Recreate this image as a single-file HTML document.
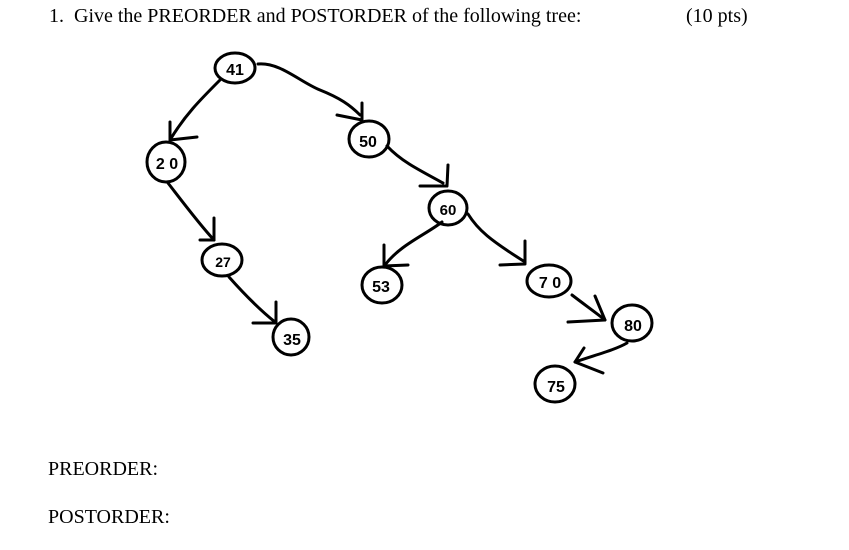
<!DOCTYPE html>
<html><head><style>
body{margin:0;width:849px;height:550px;background:#fff;position:relative;overflow:hidden;font-family:"Liberation Serif",serif;}
.t{position:absolute;font-size:20px;color:#000;white-space:nowrap;}
svg{position:absolute;left:0;top:0;}
svg text{font-family:"Liberation Sans",sans-serif;font-size:16px;font-weight:bold;}
</style></head><body>
<div class="t" style="left:49px;top:5px">1.&nbsp;&nbsp;Give the PREORDER and POSTORDER of the following tree:</div>
<div class="t" style="left:686px;top:5px">(10 pts)</div>
<div class="t" style="left:48px;top:458px">PREORDER:</div>
<div class="t" style="left:48px;top:506px">POSTORDER:</div>
<svg width="849" height="550" fill="none" stroke="#000" stroke-width="3" stroke-linecap="round" stroke-linejoin="round">
<ellipse cx="235" cy="68" rx="20" ry="15"/>
<ellipse cx="166" cy="162" rx="19" ry="20"/>
<ellipse cx="222" cy="260" rx="20" ry="16"/>
<ellipse cx="291" cy="337" rx="18" ry="18"/>
<ellipse cx="369" cy="139" rx="20" ry="18"/>
<ellipse cx="448" cy="208" rx="19" ry="17"/>
<ellipse cx="382" cy="285" rx="20" ry="18"/>
<ellipse cx="549" cy="281" rx="22" ry="16"/>
<ellipse cx="632" cy="323" rx="20" ry="18"/>
<ellipse cx="555" cy="384" rx="20" ry="18"/>
<path d="M258 64 C280 62 300 82 320 90 C340 98 350 105 360 115"/>
<path d="M362 103 L362 120 L337 115"/>
<path d="M220 80 C200 100 185 115 170 140"/>
<path d="M170 122 L170 140 L197 137"/>
<path d="M168 183 C185 205 200 225 214 240"/>
<path d="M214 218 L214 240 L200 240"/>
<path d="M229 277 C245 295 260 310 275 322"/>
<path d="M276 302 L276 323 L253 323"/>
<path d="M387 146 C400 160 415 168 443 183"/>
<path d="M448 165 L447 186 L420 186"/>
<path d="M442 222 C425 235 400 245 385 265"/>
<path d="M384 245 L384 266 L408 265"/>
<path d="M468 214 C478 230 490 240 525 262"/>
<path d="M525 241 L525 264 L500 265"/>
<path d="M572 295 C585 305 595 312 605 320"/>
<path d="M595 296 L605 320 L568 322"/>
<path d="M627 343 C615 350 595 355 575 362"/>
<path d="M584 348 L575 362 L603 373"/>
</svg>
<svg width="849" height="550">
<g fill="#000" text-anchor="middle">
<text x="235" y="75">41</text>
<text x="167" y="169">2 0</text>
<text x="223" y="267" style="font-size:14px">27</text>
<text x="292" y="345">35</text>
<text x="368" y="147">50</text>
<text x="448" y="215" style="font-size:15px">60</text>
<text x="381" y="292">53</text>
<text x="550" y="288">7 0</text>
<text x="633" y="331">80</text>
<text x="556" y="392">75</text>
</g>
</svg>
</body></html>
